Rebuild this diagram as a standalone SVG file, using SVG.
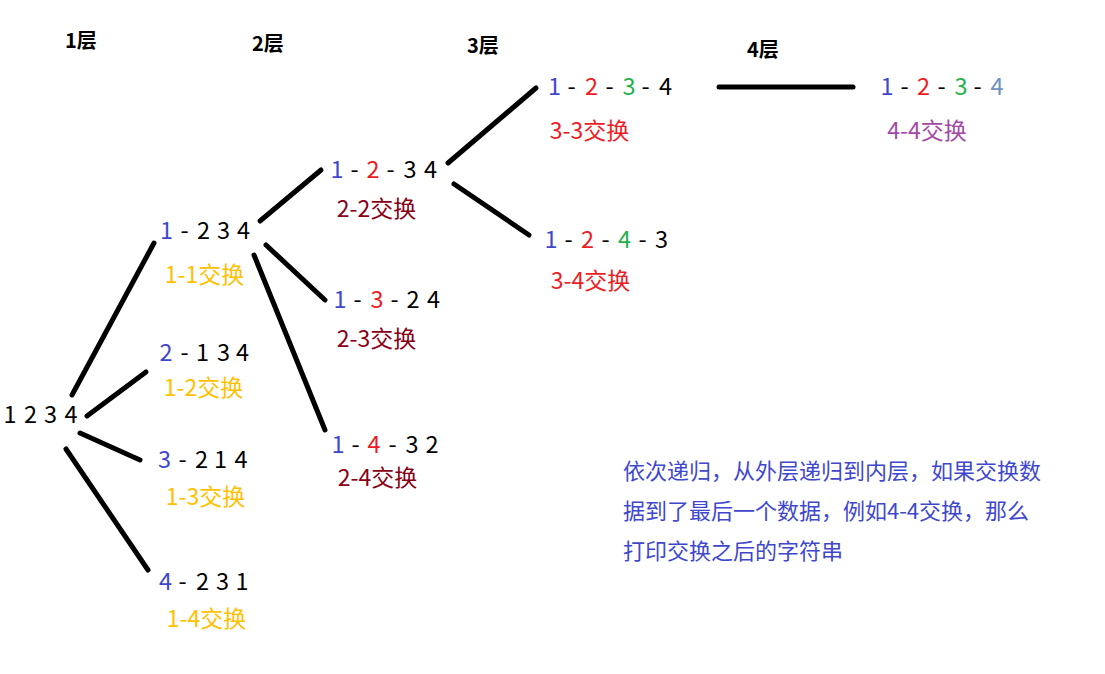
<svg xmlns="http://www.w3.org/2000/svg" width="1105" height="674" viewBox="0 0 1105 674">
<style>
text{font-family:"Noto Sans CJK SC","Microsoft YaHei","Noto Sans",sans-serif;font-size:22px;}
.seq{text-anchor:middle;fill:#000;font-size:23.5px;}
.lbl{text-anchor:middle;font-size:23px;}
.hdr{font-size:20px;font-weight:bold;fill:#000;}
.b{fill:#3F48CC;}
.r{fill:#ED1C24;}
.g{fill:#22B14C;}
.k{fill:#000;}
.s{fill:#7092BE;}
.gold{fill:#FFC000;}
.dr{fill:#880015;}
.pu{fill:#A349A4;}
.conn line{stroke:#000;stroke-width:5;stroke-linecap:round;}
.note{fill:#3F48CC;}
</style>
<rect width="1105" height="674" fill="#fff"/>

<g id="headers">
<text class="hdr" x="65" y="48">1层</text>
<text class="hdr" x="252" y="51">2层</text>
<text class="hdr" x="467" y="53">3层</text>
<text class="hdr" x="747" y="57">4层</text>
</g>

<g class="conn" id="connectors">
<line x1="72" y1="395" x2="154" y2="243"/>
<line x1="87" y1="416" x2="146" y2="372"/>
<line x1="80" y1="433" x2="140" y2="460"/>
<line x1="66" y1="449" x2="148" y2="570"/>
<line x1="260" y1="221" x2="321" y2="170"/>
<line x1="266" y1="245" x2="325" y2="300"/>
<line x1="254" y1="255" x2="325" y2="430"/>
<line x1="448" y1="163" x2="536" y2="88"/>
<line x1="454" y1="184" x2="529" y2="235"/>
<line x1="719" y1="87" x2="853" y2="87"/>
</g>

<g id="n-root">
<text class="seq" y="423" x="10 20 30.5 40.5 50.5 61 71">1 2 3 4</text>
</g>

<g id="n-1-234">
<text class="seq" y="239"><tspan class="b" x="166.5">1</tspan><tspan x="175 184.5 193 203.5 213.5 223.5 233.5 243.5"> - 2 3 4</tspan></text>
<text class="lbl gold" x="204.5" y="283">1-1交换</text>
</g>
<g id="n-2-134">
<text class="seq" y="361"><tspan class="b" x="166">2</tspan><tspan x="175 184.5 193 202.5 212.5 223.5 233 242.5"> - 1 3 4</tspan></text>
<text class="lbl gold" x="203.5" y="396">1-2交换</text>
</g>
<g id="n-3-214">
<text class="seq" y="468"><tspan class="b" x="164.5">3</tspan><tspan x="173 182.5 191 201.5 211 220.5 231 241"> - 2 1 4</tspan></text>
<text class="lbl gold" x="205.5" y="505">1-3交换</text>
</g>
<g id="n-4-231">
<text class="seq" y="590"><tspan class="b" x="165.5">4</tspan><tspan x="174 182.5 191 202.5 212.5 222.5 232 242"> - 2 3 1</tspan></text>
<text class="lbl gold" x="206.5" y="627">1-4交换</text>
</g>

<g id="n-1-2-34">
<text class="seq" y="178"><tspan class="b" x="337">1</tspan><tspan x="346 354.5 363"> - </tspan><tspan class="r" x="373">2</tspan><tspan x="382 390.5 400 410 420 430.5"> - 3 4</tspan></text>
<text class="lbl dr" x="376.5" y="217">2-2交换</text>
</g>
<g id="n-1-3-24">
<text class="seq" y="308"><tspan class="b" x="340">1</tspan><tspan x="349 357.5 366"> - </tspan><tspan class="r" x="377">3</tspan><tspan x="386 394.5 403 413 423 433.5"> - 2 4</tspan></text>
<text class="lbl dr" x="376.5" y="347">2-3交换</text>
</g>
<g id="n-1-4-32">
<text class="seq" y="453"><tspan class="b" x="338">1</tspan><tspan x="347 355.5 364"> - </tspan><tspan class="r" x="374">4</tspan><tspan x="383 392.5 401 412 422 432"> - 3 2</tspan></text>
<text class="lbl dr" x="377.5" y="486">2-4交换</text>
</g>

<g id="n-1-2-3-4">
<text class="seq" y="95"><tspan class="b" x="554.5">1</tspan><tspan x="563 571.5 580"> - </tspan><tspan class="r" x="591.5">2</tspan><tspan x="600 609.5 618"> - </tspan><tspan class="g" x="629">3</tspan><tspan x="637 645.5 655 665.5"> - 4</tspan></text>
<text class="lbl r" x="589.5" y="139">3-3交换</text>
</g>
<g id="n-1-2-4-3">
<text class="seq" y="248"><tspan class="b" x="551">1</tspan><tspan x="560 568.5 577"> - </tspan><tspan class="r" x="587.5">2</tspan><tspan x="596 605.5 614"> - </tspan><tspan class="g" x="624.5">4</tspan><tspan x="633 642.5 651 661.5"> - 3</tspan></text>
<text class="lbl r" x="590.5" y="289">3-4交换</text>
</g>

<g id="n-final">
<text class="seq" y="95"><tspan class="b" x="887">1</tspan><tspan x="896 904.5 913"> - </tspan><tspan class="r" x="923.5">2</tspan><tspan x="932 941.5 950"> - </tspan><tspan class="g" x="961">3</tspan><tspan x="969 977.5 986"> - </tspan><tspan class="s" x="997">4</tspan></text>
<text class="lbl pu" x="927" y="139">4-4交换</text>
</g>

<g id="note">
<text class="note" x="623" y="479">依次递归，从外层递归到内层，如果交换数</text>
<text class="note" x="623" y="519">据到了最后一个数据，例如4-4交换，那么</text>
<text class="note" x="623" y="559">打印交换之后的字符串</text>
</g>
</svg>
